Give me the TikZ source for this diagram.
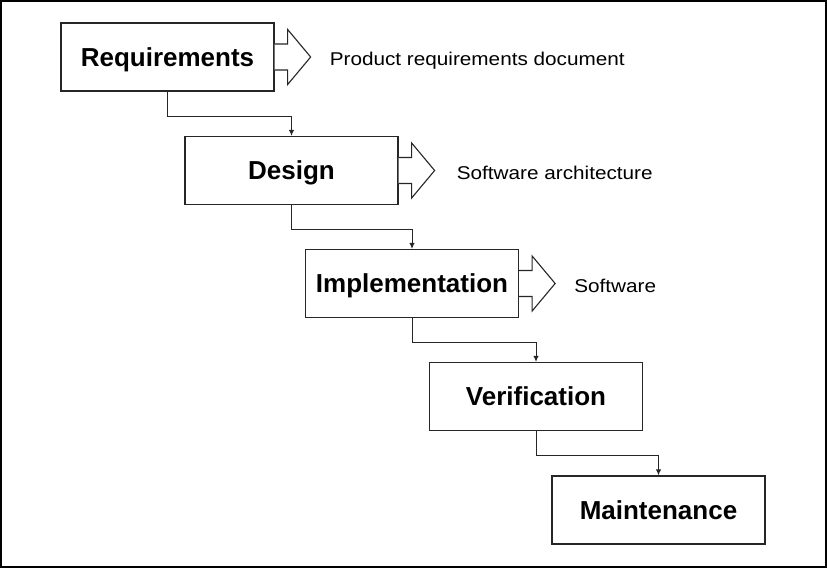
\documentclass[tikz,border=0pt]{standalone}
\usepackage{fontspec}
\setmainfont{Liberation Sans}
\newfontfamily\labfont[FakeStretch=1.12]{Liberation Sans}
\usetikzlibrary{arrows.meta}
\begin{document}
\begin{tikzpicture}[x=1pt,y=-1pt,
  stage/.style={draw=black!85, line width=1.3pt, minimum width=213pt, minimum height=68pt,
    inner sep=0pt, text height=18.6pt, text depth=0pt, font=\fontsize{26}{28}\selectfont\bfseries},
  outlabel/.style={anchor=base west, inner sep=0pt, font=\labfont\fontsize{18.5}{20}\selectfont},
  flow/.style={draw=black!85, line width=1pt, -{Latex[length=6pt,width=5.5pt]}},
  blockarrow/.style={draw=black!85, line width=1.1pt, fill=white, line join=miter}]
\useasboundingbox (0,0) rectangle (827,568);
\draw[line width=2pt] (1,1) rectangle (826,567);

\node[stage] (req) at (167.5,57)   {Requirements};
\node[stage] (des) at (291.5,170.5) {Design};
\node[stage] (imp) at (412,283.5)  {Implementation};
\node[stage] (ver) at (536,396.5)  {Verification};
\node[stage] (mai) at (658.5,510)  {Maintenance};

\draw[flow] (req.south) -- ++(0,25) -| (des.north);
\draw[flow] (des.south) -- ++(0,24) -| (imp.north);
\draw[flow] (imp.south) -- ++(0,24) -| (ver.north);
\draw[flow] (ver.south) -- ++(0,24) -| (mai.north);

\foreach \n in {req,des,imp}{
  \draw[blockarrow] (\n.east) ++(0,-13) -- ++(13,0) -- ++(0,-14.5) -- ++(23,27.5)
     coordinate (\n tip) -- ++(-23,27.5) -- ++(0,-14.5) -- ++(-13,0);
}
\node[outlabel] (reqout) at ([xshift=19pt,yshift=-8.5pt]reqtip) {Product requirements document};
\node[outlabel] (desout) at ([xshift=22pt,yshift=-8.5pt]destip) {Software architecture};
\node[outlabel] (impout) at ([xshift=19pt,yshift=-8.5pt]imptip) {Software};
\end{tikzpicture}
\end{document}
